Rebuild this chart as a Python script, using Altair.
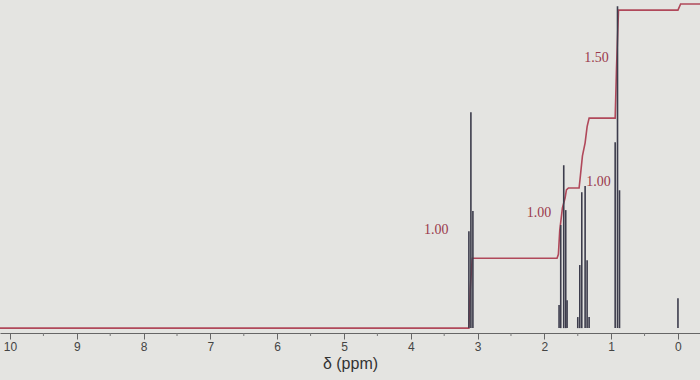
import altair as alt
import pandas as pd

# Peak lines (chemical shift in ppm, relative intensity)
peak_ppm = [3.13, 3.10, 3.07,
            1.78, 1.755, 1.71, 1.68, 1.66,
            1.50, 1.47, 1.44, 1.39, 1.36, 1.33,
            0.94, 0.905, 0.875,
            0.0]
peak_int = [29.8, 66.4, 36.0,
            7.1, 31.7, 50.1, 36.3, 8.6,
            3.4, 19.4, 41.8, 43.7, 20.9, 3.4,
            57.2, 99.0, 42.4,
            9.2]

# Integral trace (ppm, level)
integ_ppm = [10.15, 3.13, 3.11, 3.08, 1.81, 1.79, 1.77, 1.73, 1.69, 1.67, 1.64,
             1.48, 1.46, 1.43, 1.39, 1.36, 1.33, 0.94, 0.92, 0.89, 0.00, -0.04, -0.33]
integ_val = [0, 0, 12, 21.5, 21.5, 22.7, 30, 37, 40, 42.5, 43.1,
             43.1, 47, 53, 57, 62, 64.6, 64.6, 80, 97.8, 97.8, 99.7, 99.7]

# Integration labels
lab_text = ["1.00", "1.00", "1.00", "1.50"]
lab_ppm = [3.62, 2.08, 1.19, 1.22]
lab_val = [30.1, 35.4, 44.9, 83.0]

# Minor axis ticks
minor_ticks = [9.5, 8.5, 7.5, 6.5, 5.5, 4.5, 3.5, 2.5, 1.5, 0.5]

peaks = pd.DataFrame({"ppm": peak_ppm, "v": peak_int, "base": [0] * len(peak_ppm)})
integ = pd.DataFrame({"ppm": integ_ppm, "v": integ_val})
labels = pd.DataFrame({"ppm": lab_ppm, "v": lab_val, "t": lab_text})
minor = pd.DataFrame({"ppm": minor_ticks})

xscale = alt.Scale(domain=[10.15, -0.33], nice=False, zero=False)
yscale = alt.Scale(domain=[-1.5, 100], nice=False, zero=False)

minor_layer = alt.Chart(minor).mark_rule(color="#777", strokeWidth=1).encode(
    x=alt.X("ppm:Q", scale=xscale, title="δ (ppm)"),
    y=alt.value(330),
    y2=alt.value(333),
)

integ_layer = alt.Chart(integ).mark_line(color="#b0485a", strokeWidth=1.6).encode(
    x=alt.X("ppm:Q", scale=xscale, title="δ (ppm)"),
    y=alt.Y("v:Q", scale=yscale, axis=None),
)

peak_layer = alt.Chart(peaks).mark_rule(color="#3c3c4c", strokeWidth=1.6).encode(
    x=alt.X("ppm:Q", scale=xscale, title="δ (ppm)"),
    y=alt.Y("v:Q", scale=yscale, axis=None),
    y2="base:Q",
)

label_layer = alt.Chart(labels).mark_text(font="Liberation Serif", fontSize=14, color="#9a3a4c").encode(
    x=alt.X("ppm:Q", scale=xscale, title="δ (ppm)"),
    y=alt.Y("v:Q", scale=yscale, axis=None),
    text="t:N",
)

chart = alt.layer(minor_layer, integ_layer, peak_layer, label_layer).properties(
    width=700, height=330,
    autosize=alt.AutoSizeParams(type="none"),
    padding={"left": 0, "top": 3, "right": 0, "bottom": 47},
    background="#e4e4e1",
).configure_view(stroke=None, fill="#e4e4e1").configure_axisX(
    grid=False, tickCount=11, tickSize=6,
    labelFont="Liberation Sans", labelFontSize=12, labelColor="#444", labelPadding=2,
    domainColor="#666", tickColor="#666",
    titleFont="Liberation Sans", titleFontSize=16, titleColor="#333",
    titleFontWeight="normal", titlePadding=3,
)

chart.save("out.html", embed_options={"renderer": "svg", "actions": False})
